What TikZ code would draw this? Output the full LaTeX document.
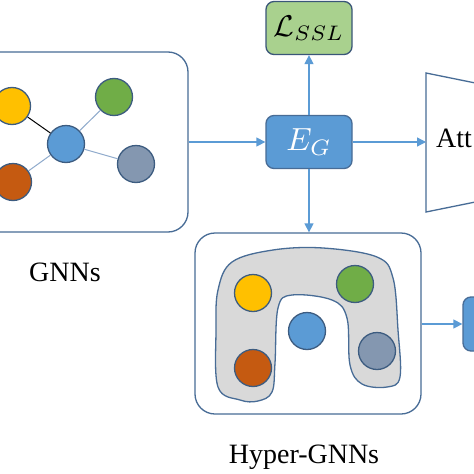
\documentclass[tikz,border=0pt]{standalone}
\usepackage{fontspec}
\setmainfont{Liberation Serif}
\usetikzlibrary{arrows.meta, positioning, calc}
\definecolor{frameblue}{RGB}{72,108,150}
\definecolor{arrowblue}{RGB}{91,155,213}
\definecolor{nodeblue}{RGB}{91,155,213}
\definecolor{nodeyellow}{RGB}{255,192,0}
\definecolor{nodegreen}{RGB}{112,173,71}
\definecolor{nodeslate}{RGB}{132,151,176}
\definecolor{nodeorange}{RGB}{197,90,17}
\definecolor{lossgreen}{RGB}{169,209,142}
\definecolor{blobgray}{RGB}{217,217,217}
\definecolor{edgelight}{RGB}{143,170,204}

\begin{document}
\begin{tikzpicture}[
        x=1pt, y=-1pt,
        frame/.style={rectangle, draw=frameblue, line width=1.3pt, rounded corners=20pt, fill=white},
        vtx/.style={circle, draw=frameblue!85!black, line width=1.3pt, minimum size=37pt, inner sep=0pt},
        block/.style={rectangle, draw=frameblue, line width=1.3pt, rounded corners=8pt, minimum width=86pt, minimum height=53pt, inner sep=0pt},
        flow/.style={-{Triangle[length=9pt, width=9pt]}, draw=arrowblue, line width=1.3pt},
        caption/.style={font=\fontsize{28}{32}\selectfont}
    ]
        \clip (0,0) rectangle (474,474);
        \fill[white] (0,0) rectangle (474,474);

        % GNN panel
        \node[frame, minimum width=208pt, minimum height=180pt] (gnn) at (84,142) {};
        \node[vtx, fill=nodeyellow] (gy) at (12,106) {};
        \node[vtx, fill=nodegreen] (gg) at (114,97) {};
        \node[vtx, fill=nodeblue] (gb) at (66,144) {};
        \node[vtx, fill=nodeslate] (gs) at (136,164) {};
        \node[vtx, fill=nodeorange] (go) at (13,182) {};
        \draw[black, line width=1pt] (gy) -- (gb);
        \draw[edgelight, line width=1pt] (gb) -- (gg);
        \draw[edgelight, line width=1pt] (gb) -- (gs);
        \draw[edgelight, line width=1pt] (gb) -- (go);
        \node[caption] (gnnlabel) at (65,272) {GNNs};

        % encoder and loss
        \node[block, fill=nodeblue] (eg) at (309,142) {\color{white}\scalebox{3.2}{$E_G$}};
        \node[block, fill=lossgreen, draw=frameblue!80!black] (loss) at (309,28) {\scalebox{3}{$\mathcal{L}_{SSL}$}};

        % attention
        \coordinate (att) at (426,142);
        \draw[frameblue, line width=1.3pt] (500,88) -- (426,73) -- (426,212) -- (500,197);
        \node[caption, anchor=west, inner sep=0pt] (atttext) at (436,138) {Att};

        % hypergraph panel
        \node[frame, minimum width=226pt, minimum height=181pt] (hyper) at (308,323.5) {};
        \draw[frameblue, line width=1.3pt, fill=blobgray] plot[smooth cycle, tension=0.6] coordinates {
            (240,400) (218,387) (216,330) (218,290) (232,262) (273,250) (323,248) (377,257)
            (393,278) (398,330) (400,377) (387,387) (362,384) (350,365) (347,318) (332,300)
            (292,295) (278,308) (275,363) (272,392) (258,401)};
        \node[vtx, fill=nodeyellow] (hy) at (253,293) {};
        \node[vtx, fill=nodegreen] (hg) at (355,284) {};
        \node[vtx, fill=nodeblue] (hb) at (307,331) {};
        \node[vtx, fill=nodeslate] (hs) at (377,351) {};
        \node[vtx, fill=nodeorange] (ho) at (253,368) {};
        \node[caption] (hyperlabel) at (304,457) {Hyper-GNNs};

        % output block
        \node[block, fill=nodeblue, minimum width=40pt, minimum height=54pt] (out) at (483,324) {};

        % connections
        \draw[flow] (gnn.east) -- (eg.west);
        \draw[flow] (eg.north) -- (loss.south);
        \draw[flow] (eg.east) -- (att);
        \draw[flow] (eg.south) -- (eg.south |- hyper.north);
        \draw[flow] (hyper.east |- out.west) -- (out.west);
    \end{tikzpicture}
\end{document}
